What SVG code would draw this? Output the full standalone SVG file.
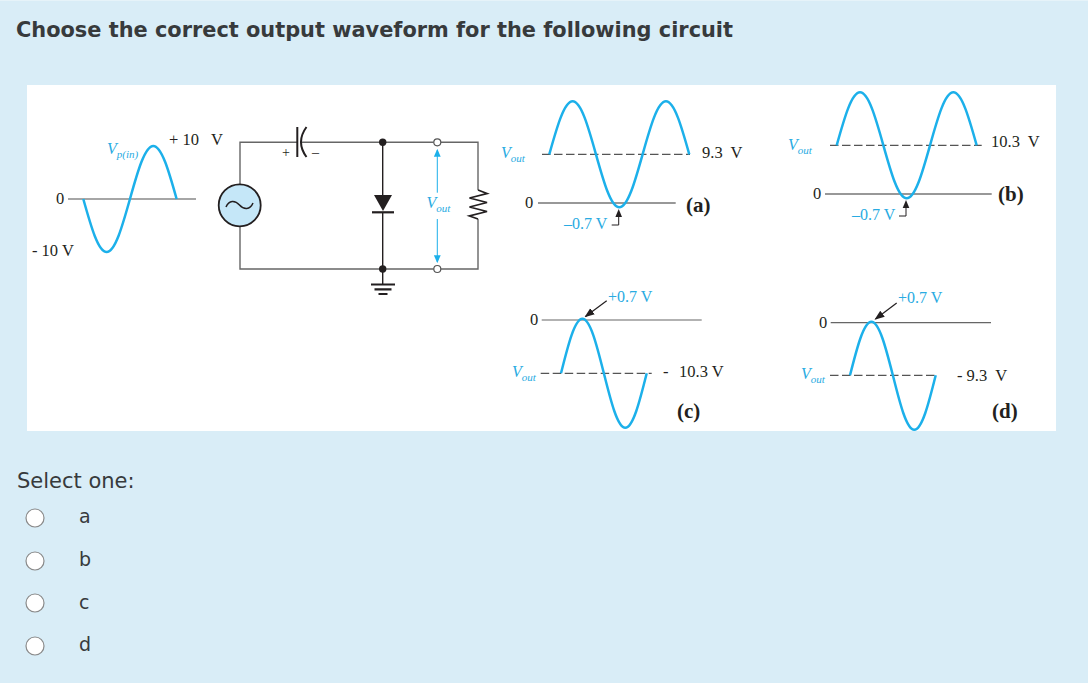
<svg xmlns="http://www.w3.org/2000/svg" width="1088" height="683" viewBox="0 0 1088 683">
<defs>
<marker id="tipBlue" markerWidth="8" markerHeight="8" refX="6" refY="3" orient="auto-start-reverse" markerUnits="userSpaceOnUse" viewBox="0 0 7 6"><path d="M0 0L7 3L0 6Z" fill="#1cb0ea"/></marker>
<marker id="tipDark" markerWidth="10" markerHeight="9" refX="7" refY="3" orient="auto" markerUnits="userSpaceOnUse" viewBox="0 0 8 6"><path d="M0 0L8 3L0 6Z" fill="#231f20"/></marker>
</defs>
<style>
.ui{font-family:"DejaVu Sans",Verdana,sans-serif;fill:#373a3c}
.t{font-family:"Liberation Serif",serif;fill:#231f20;font-size:16.500px}
.b{font-family:"Liberation Serif",serif;fill:#231f20;font-size:21px;font-weight:bold}
.bl{font-family:"Liberation Serif",serif;fill:#29abe2;font-size:16px}
.v{font-family:"Liberation Serif",serif;fill:#29abe2;font-size:16px;font-style:italic}
.s{font-size:11px}
.wave{fill:none;stroke:#1cb0ea;stroke-width:2.500}
.axis{fill:none;stroke:#333;stroke-width:1.200}
.dash{fill:none;stroke:#555;stroke-width:1.300;stroke-dasharray:8.500 3.500}
.wire{fill:none;stroke:#666;stroke-width:1.400}
.dk{fill:none;stroke:#231f20;stroke-width:1.400}
.plate{fill:none;stroke:#231f20;stroke-width:2}
.dot{fill:#231f20}
.term{fill:#fff;stroke:#555;stroke-width:1.200}
.radio{fill:#fff;stroke:#8a8a8a;stroke-width:1.200}
</style>
<rect width="1088" height="683" fill="#d9edf7"/>
<rect width="1088" height="1" fill="#e6f3f9"/>
<rect x="27" y="85" width="1029" height="346" fill="#fff"/>
<text class="ui" x="16" y="37" font-size="21" font-weight="bold" textLength="717" lengthAdjust="spacingAndGlyphs">Choose the correct output waveform for the following circuit</text>

<g id="connectors">
<path class="wire" d="M240 184.500V142.300H297M301 142.300H382.700"/>
<path class="wire" d="M240 226.300V269H433.800M440.800 269H478V219M478 190V142.300H440.800M433.800 142.300H382.700"/>
<path class="dk" d="M382.700 142.300V195M382.700 212V269M382.700 269V284"/>
<path d="M437.300 192.700V150" fill="none" stroke="#1cb0ea" stroke-width="1" marker-end="url(#tipBlue)"/>
<path d="M437.300 219V262" fill="none" stroke="#1cb0ea" stroke-width="1" marker-end="url(#tipBlue)"/>
</g>

<g id="input-waveform">
<path class="axis" style="stroke:#888;stroke-width:1.500" d="M68 199H196"/>
<path class="wave" d="M83.300 199c7.610 27.150 14.890 53 23.330 53c8.440 0 15.720-25.850 23.330-53c7.610-27.150 14.890-53 23.330-53c8.440 0 15.720 25.850 23.330 53"/>
<text class="t" x="169" y="145" xml:space="preserve">+ 10   V</text>
<text class="t" x="56" y="204">0</text>
<text class="t" x="32" y="255.500">- 10 V</text>
<text class="v" x="107" y="154">V<tspan class="s" dy="4">p(in)</tspan></text>
</g>

<g id="source">
<circle cx="239.700" cy="205.300" r="21" fill="#c5e7f8" stroke="#231f20" stroke-width="1.800"/>
<path d="M226 207c3-7 9-7 13.500-2s10.500 5 13.500-2" fill="none" stroke="#231f20" stroke-width="1.500"/>
</g>

<g id="capacitor">
<path class="plate" d="M297.300 127V157"/>
<path class="plate" d="M306.500 127Q295.500 142 306.500 157"/>
<text class="t" x="282" y="157" style="font-size:14px">+</text>
<text class="t" x="312" y="157" style="font-size:14px">–</text>
</g>

<g id="diode">
<path class="dot" d="M374 195H392L383 211Z"/>
<path d="M372 212.300H394" stroke="#231f20" stroke-width="2.200"/>
</g>

<g id="node-top"><circle class="dot" cx="382.700" cy="142.300" r="3.700"/></g>
<g id="node-bottom"><circle class="dot" cx="382.700" cy="269" r="3.700"/></g>
<g id="terminal-top"><circle class="term" cx="437.300" cy="142.300" r="3.500"/></g>
<g id="terminal-bottom"><circle class="term" cx="437.300" cy="269" r="3.500"/></g>

<g id="ground">
<path d="M371 284.500H395M374.500 289.300H391.500M378.500 294H387.500" stroke="#231f20" stroke-width="2.200" fill="none"/>
</g>

<g id="vout-label"><text class="v" x="426.500" y="208">V<tspan class="s" dy="4">out</tspan></text></g>

<g id="resistor">
<path d="M478 190L487 193.500L469.500 198L487 202.500L469.500 207L487 211.500L469.500 216L478 219" fill="none" stroke="#231f20" stroke-width="1.800"/>
</g>

<g id="waveform-a">
<path class="dash" d="M542 154.300H690"/>
<path class="axis" d="M538 203H675.700"/>
<path class="wave" d="M549.300 154.300c7.610-27.150 14.890-53 23.330-53c8.440 0 15.720 25.850 23.330 53c7.610 27.150 14.890 53 23.330 53c8.440 0 15.720-25.850 23.330-53c7.610-27.150 14.890-53 23.330-53c8.440 0 15.720 25.850 23.330 53"/>
<path d="M611.700 225H618.700V216" fill="none" stroke="#231f20" stroke-width="1" />
<path class="dot" d="M618.700 209L622 217H615.400Z"/>
<text class="v" x="501" y="158">V<tspan class="s" dy="4">out</tspan></text>
<text class="t" x="702" y="158" xml:space="preserve">9.3  V</text>
<text class="t" x="525" y="207.700">0</text>
<text class="bl" x="564" y="229">–0.7 V</text>
<text class="b" x="686" y="211.500">(a)</text>
</g>

<g id="waveform-b">
<path class="dash" d="M830 145.300H981.700"/>
<path class="axis" d="M825 194H991.700"/>
<path class="wave" d="M836.700 145.300c7.610-27.150 14.890-53 23.330-53c8.440 0 15.720 25.850 23.330 53c7.610 27.150 14.890 53 23.330 53c8.440 0 15.720-25.850 23.330-53c7.610-27.150 14.890-53 23.330-53c8.440 0 15.720 25.850 23.330 53"/>
<path d="M899 216H906V207" fill="none" stroke="#231f20" stroke-width="1"/>
<path class="dot" d="M906 200L909.300 208H902.700Z"/>
<text class="v" x="788" y="150">V<tspan class="s" dy="4">out</tspan></text>
<text class="t" x="991" y="147" xml:space="preserve">10.3  V</text>
<text class="t" x="813" y="199">0</text>
<text class="bl" x="852" y="220">–0.7 V</text>
<text class="b" x="998" y="201">(b)</text>
</g>

<g id="waveform-c">
<path class="dash" d="M540.700 373.300H651.700"/>
<path class="axis" style="stroke:#666" d="M541.700 320H701.700"/>
<path class="wave" d="M561 373.300c6.990-27.920 13.670-54.500 21.430-54.500c7.760 0 14.440 26.580 21.430 54.500c6.990 27.920 13.670 54.500 21.430 54.500c7.760 0 14.440-26.580 21.430-54.500"/>
<path d="M606.700 300.700L585.500 316.600" fill="none" stroke="#231f20" stroke-width="1.200" marker-end="url(#tipDark)"/>
<text class="bl" x="608" y="301.500">+0.7 V</text>
<text class="t" x="530" y="325">0</text>
<text class="v" x="512" y="377">V<tspan class="s" dy="4">out</tspan></text>
<text class="t" x="663" y="377">-<tspan x="679">10.3 V</tspan></text>
<text class="b" x="677" y="418">(c)</text>
</g>

<g id="waveform-d">
<path class="dash" d="M830 375.300H938"/>
<path class="axis" style="stroke:#666" d="M830.700 322.700H991"/>
<path class="wave" d="M850 375.300c6.990-27.420 13.670-53.500 21.430-53.500c7.760 0 14.440 26.080 21.430 53.500c6.990 27.920 13.670 54.500 21.430 54.500c7.760 0 14.440-26.580 21.430-54.500"/>
<path d="M896.700 303L875.500 319" fill="none" stroke="#231f20" stroke-width="1.200" marker-end="url(#tipDark)"/>
<text class="bl" x="898" y="303">+0.7 V</text>
<text class="t" x="819" y="327.700">0</text>
<text class="v" x="801" y="379">V<tspan class="s" dy="4">out</tspan></text>
<text class="t" x="957" y="381" xml:space="preserve">- 9.3  V</text>
<text class="b" x="992" y="418">(d)</text>
</g>

<g id="answers">
<text class="ui" x="17" y="488" font-size="21">Select one:</text>
<circle class="radio" cx="35" cy="518" r="9"/>
<circle class="radio" cx="35" cy="561" r="9"/>
<circle class="radio" cx="35" cy="603" r="9"/>
<circle class="radio" cx="35" cy="646" r="9"/>
<text class="ui" x="79" y="523" font-size="19">a</text>
<text class="ui" x="79" y="566" font-size="19">b</text>
<text class="ui" x="79" y="609" font-size="19">c</text>
<text class="ui" x="79" y="651" font-size="19">d</text>
</g>
</svg>
